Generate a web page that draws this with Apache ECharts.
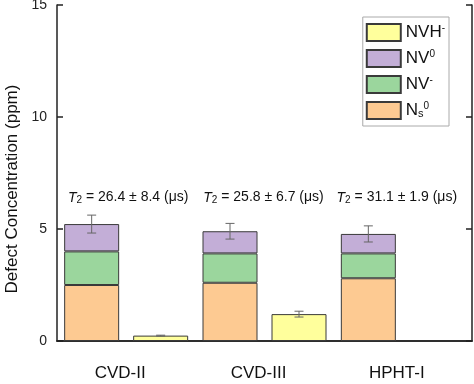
<!DOCTYPE html>
<html><head><meta charset="utf-8">
<script src="https://cdn.jsdelivr.net/npm/echarts@6/dist/echarts.min.js"></script>
<style>html,body{margin:0;padding:0;background:#fff}#c{width:474px;height:384px}</style>
</head><body><div id="c"></div>
<script>
const categories = ['CVD-II', 'CVD-III', 'HPHT-I'];
const ns0 = [2.5, 2.6, 2.8];
const nvMinus = [1.5, 1.31, 1.11];
const nv0 = [1.22, 0.99, 0.87];
const stackErr = [0.4, 0.35, 0.36];
const nvh = [0.24, 1.2, null];
const nvhErr = [0.02, 0.13, null];
const t2Values = ['26.4 ± 8.4', '25.8 ± 6.7', '31.1 ± 1.9'];
const t2LabelY = 6.4;
const yTicks = [0, 5, 10, 15];

const BW = 55, GAP = 14, OFF = (BW + GAP) / 2;
const totals = ns0.map((v, i) => v + nvMinus[i] + nv0[i]);
const border = {borderColor: '#3a3a3a', borderWidth: 1};
const t2Shift = [2, -1, -6];

function errRender(offset) {
  return function (params, api) {
    const x = api.value(0), y = api.value(1), e = api.value(2);
    if (y == null || isNaN(y)) return;
    const top = api.coord([x, y + e]);
    const bot = api.coord([x, y - e]);
    const cx = top[0] + offset;
    const cap = 4.5;
    const st = {stroke: '#666', lineWidth: 1};
    return {type: 'group', children: [
      {type: 'line', shape: {x1: cx, y1: top[1], x2: cx, y2: bot[1]}, style: st},
      {type: 'line', shape: {x1: cx - cap, y1: top[1], x2: cx + cap, y2: top[1]}, style: st},
      {type: 'line', shape: {x1: cx - cap, y1: bot[1], x2: cx + cap, y2: bot[1]}, style: st}
    ]};
  };
}

const legendFmt = {
  'NVH-': '{m|NVH}{p|-}',
  'NV0': '{m|NV}{p|0}',
  'NV-': '{m|NV}{p|-}',
  'Ns0': '{m|N}{b|s}{p|0}'
};

const chart = echarts.init(document.getElementById('c'));
chart.setOption({
  animation: false,
  textStyle: {fontFamily: 'Liberation Sans, Arial, sans-serif'},
  grid: {left: 57, right: 2, top: 5, bottom: 43, containLabel: false, outerBoundsMode: 'none'},
  legend: {
    orient: 'vertical', right: 25, top: 17,
    data: ['NVH-', 'NV0', 'NV-', 'Ns0'],
    icon: 'rect',
    itemWidth: 34, itemHeight: 17, itemGap: 7,
    padding: [6, 4, 6, 3],
    borderColor: '#aaa', borderWidth: 1,
    backgroundColor: '#fff',
    formatter: n => legendFmt[n],
    textStyle: {
      color: '#111',
      rich: {
        m: {fontSize: 17, lineHeight: 18, color: '#111', fontFamily: 'Liberation Sans'},
        p: {fontSize: 10, lineHeight: 10, verticalAlign: 'top', color: '#111', fontFamily: 'Liberation Sans'},
        b: {fontSize: 11, lineHeight: 10, verticalAlign: 'bottom', color: '#111', fontFamily: 'Liberation Sans'}
      }
    }
  },
  xAxis: [{
    type: 'category', data: categories,
    axisLine: {lineStyle: {color: '#222', width: 1.5}},
    axisTick: {show: false},
    axisLabel: {fontSize: 17, color: '#111', margin: 24, padding: [0, 12, 0, 0]}
  }, {
    type: 'category', data: categories, position: 'top',
    axisLine: {lineStyle: {color: '#222', width: 1.5}},
    axisTick: {show: false}, axisLabel: {show: false}
  }],
  yAxis: [{
    type: 'value', min: 0, max: 15, interval: 5,
    name: 'Defect Concentration (ppm)', nameLocation: 'middle', nameGap: 30,
    nameTextStyle: {fontSize: 17, color: '#111', padding: [0, 32, 0, 0]},
    axisLine: {show: true, lineStyle: {color: '#222', width: 1.5}},
    axisTick: {show: true, inside: true, length: 6, lineStyle: {color: '#222', width: 1.5}},
    axisLabel: {fontSize: 14, color: '#222', margin: 10,
      formatter: v => yTicks.includes(v) ? String(v) : ''},
    splitLine: {show: false}
  }, {
    type: 'value', min: 0, max: 15, interval: 5, position: 'right',
    axisLine: {show: true, lineStyle: {color: '#222', width: 1.5}},
    axisTick: {show: true, inside: true, length: 6, lineStyle: {color: '#222', width: 1.5}},
    axisLabel: {show: false}, splitLine: {show: false}
  }],
  series: [
    {name: 'Ns0', type: 'bar', stack: 's', data: ns0, barWidth: BW, barGap: (GAP / BW * 100) + '%',
      itemStyle: Object.assign({color: '#fdca92'}, border)},
    {name: 'NV-', type: 'bar', stack: 's', data: nvMinus, barWidth: BW,
      itemStyle: Object.assign({color: '#9bd69d'}, border)},
    {name: 'NV0', type: 'bar', stack: 's', data: nv0, barWidth: BW,
      itemStyle: Object.assign({color: '#c3aed7'}, border)},
    {name: 'NVH-', type: 'bar', data: nvh.map(v => v == null ? '-' : v), barWidth: BW,
      itemStyle: Object.assign({color: '#ffff9c'}, border)},
    {type: 'custom', renderItem: errRender(-OFF), z: 10,
      data: totals.map((v, i) => [i, v, stackErr[i]]), encode: {x: 0, y: 1}},
    {type: 'custom', renderItem: errRender(OFF), z: 10,
      data: nvh.map((v, i) => [i, v == null ? NaN : v, nvhErr[i] == null ? 0 : nvhErr[i]]), encode: {x: 0, y: 1}},
    {type: 'custom', z: 10, encode: {x: 0, y: 1},
      data: t2Values.map((v, i) => [i, t2LabelY]),
      renderItem: function (params, api) {
        const p = api.coord([api.value(0), api.value(1)]);
        return {type: 'text', x: p[0] + t2Shift[params.dataIndex], y: p[1],
          style: {
            text: '{t|T}{s|2}{r| = ' + t2Values[params.dataIndex] + ' (μs)}',
            align: 'center', verticalAlign: 'middle',
            rich: {
              t: {fontSize: 14, fontStyle: 'italic', lineHeight: 16, fill: '#111', fontFamily: 'Liberation Sans'},
              s: {fontSize: 10, lineHeight: 8, verticalAlign: 'bottom', fill: '#111', fontFamily: 'Liberation Sans'},
              r: {fontSize: 14, lineHeight: 16, fill: '#111', fontFamily: 'Liberation Sans'}
            }
          }};
      }}
  ]
});
</script></body></html>
